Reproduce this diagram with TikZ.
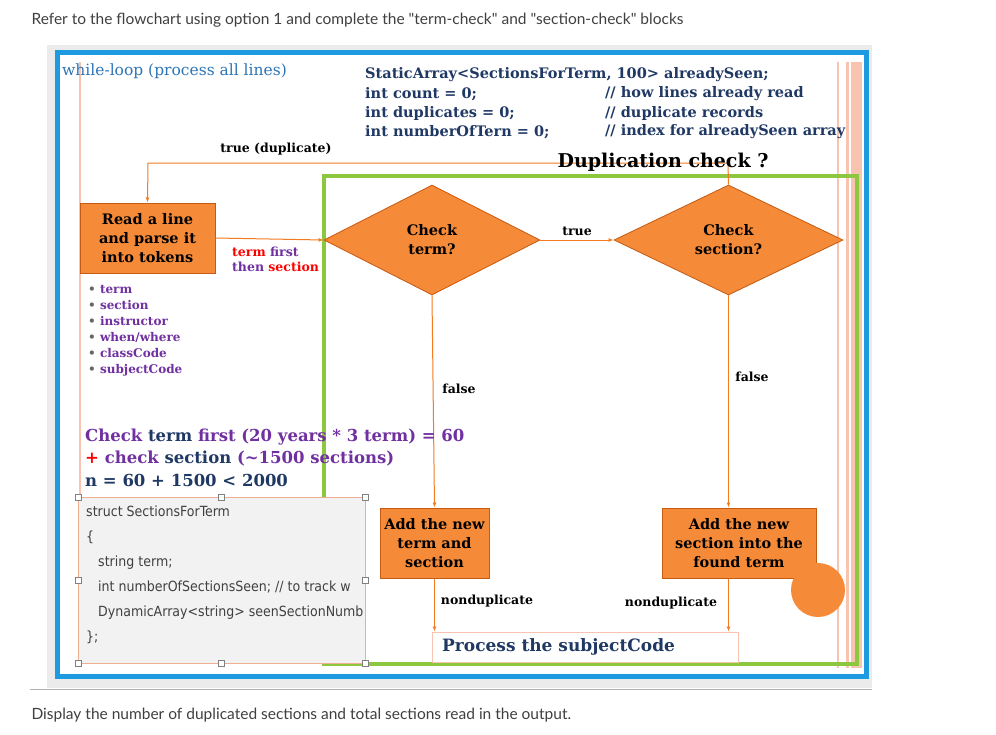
\documentclass[tikz,border=0pt]{standalone}
\usepackage{fontspec}
\setmainfont{DejaVu Serif}
\newfontfamily\uisans{Lato}
\newfontfamily\codefont{DejaVu Sans Condensed}
\usetikzlibrary{shapes.geometric,arrows.meta}
\definecolor{navy}{HTML}{1F3864}
\definecolor{org}{HTML}{F58A38}
\definecolor{orgline}{HTML}{F47B20}
\definecolor{orgdark}{HTML}{C55A11}
\definecolor{salmon}{HTML}{F8C4B0}
\definecolor{frameblue}{HTML}{1E9BE0}
\definecolor{grn}{HTML}{8DC63F}
\definecolor{purp}{HTML}{7030A0}
\definecolor{lblue}{HTML}{2E75B6}
\begin{document}
\begin{tikzpicture}[x=1pt,y=-1pt,
  proc/.style={draw=orgdark,fill=org,line width=1pt,align=center,font=\bfseries\fontsize{14.5}{19}\selectfont,inner sep=2pt},
  dec/.style={diamond,aspect=2,draw=orgdark,fill=org,line width=0.8pt,align=center,font=\bfseries\fontsize{14.5}{19}\selectfont,inner sep=0pt},
  flow/.style={orgline,line width=1pt,-{Latex[length=5pt,width=4pt]}},
  lbl/.style={font=\bfseries\fontsize{12.5}{14}\selectfont,inner sep=1pt,text=black},
  code/.style={anchor=west,font=\bfseries\fontsize{14.5}{16}\selectfont,text=navy,inner sep=0pt}]
\useasboundingbox (0,0) rectangle (996,734);
\fill[white] (0,0) rectangle (996,734);
\node[anchor=west,font=\uisans\fontsize{15.5}{17}\selectfont,text=black!75] (q) at (28,20) {Refer to the flowchart using option 1 and complete the "term-check" and "section-check" blocks};
\fill[black!8] (47,45) rectangle (872,688);
\draw[frameblue,line width=5pt,fill=white] (57,52) rectangle (866,676);
% salmon stripes
\fill[salmon] (846,62) rectangle (862,668);
\draw[white,line width=1.2pt] (850,62) -- (850,668);
\draw[salmon,line width=1.5pt] (838,62) -- (838,668);
\draw[salmon,line width=1.5pt] (80,62) -- (80,495);
% green frame
\draw[grn,line width=4pt] (324,176) rectangle (857,664);
\node[anchor=west,font=\fontsize{15.5}{18}\selectfont,text=lblue,inner sep=0pt] (wl) at (62,71) {while-loop (process all lines)};
\node[code] (d1) at (365,75) {StaticArray<SectionsForTerm, 100> alreadySeen;};
\node[code] (d2) at (365,94) {int count = 0;};
\node[code] (d3) at (365,113) {int duplicates = 0;};
\node[code] (d4) at (365,132) {int numberOfTern = 0;};
\node[code] (c2) at (605,94) {// how lines already read};
\node[code] (c3) at (605,113) {// duplicate records};
\node[code] (c4) at (605,132) {// index for alreadySeen array};
\node[lbl] (td) at (276,149) {true (duplicate)};
% nodes
\node[proc,minimum width=135pt,minimum height=70pt] (read) at (147.5,238) {Read a line\\and parse it\\into tokens};
\node[dec,minimum width=216pt,minimum height=110pt] (ct) at (432,240) {Check\\term?};
\node[dec,minimum width=229pt,minimum height=110pt] (cs) at (728.5,240) {Check\\section?};
\node[proc,minimum width=109pt,minimum height=70pt] (at) at (434.5,543) {Add the new\\term and\\section};
\node[proc,minimum width=154pt,minimum height=70pt] (as) at (739,543) {Add the new\\section into the\\found term};
\node[draw=salmon,fill=white,line width=1pt,minimum width=306pt,minimum height=30pt,inner sep=0pt] (pr) at (585,647) {};
\node[anchor=west,font=\bfseries\fontsize{17}{19}\selectfont,text=navy,inner sep=0pt] (prt) at (442,647) {Process the subjectCode};
\fill[org] (818,590) circle (27);
% connectors
\coordinate (lp1) at (728,163);
\coordinate (lp2) at (148,163);
\draw[flow] (cs.north) -- (lp1) -- (lp2) -- (read.north);
\node[font=\bfseries\fontsize{19}{21}\selectfont,inner sep=1pt] (dup) at (663,162) {Duplication check ?};
\draw[flow] (read.east) -- (ct.west);
\draw[flow] (ct.east) -- node[lbl,above=3pt] {true} (cs.west);
\draw[flow] (ct.south) -- (at.north);
\draw[flow] (cs.south) -- (cs.south |- as.north);
\draw[flow] (at.south) -- (at.south |- pr.north);
\draw[flow] (as.south -| cs.south) -- (cs.south |- pr.north);
\node[lbl] (f1) at (459,389) {false};
\node[lbl] (f2) at (752,377) {false};
\node[lbl] (n1) at (487,601) {nonduplicate};
\node[lbl] (n2) at (671,603) {nonduplicate};
\node[anchor=west,font=\bfseries\fontsize{12.5}{15}\selectfont,align=left,inner sep=0pt] (tf) at (232,259) {\textcolor{red}{term} \textcolor{purp}{first}\\\textcolor{purp}{then} \textcolor{red}{section}};
% bullet list
\node[anchor=north west,font=\bfseries\fontsize{12}{16}\selectfont,text=purp,align=left,inner sep=0pt] (bl) at (88,285) {%
\textcolor{black!60}{\textbullet}\ term\\ \textcolor{black!60}{\textbullet}\ section\\ \textcolor{black!60}{\textbullet}\ instructor\\ \textcolor{black!60}{\textbullet}\ when/where\\ \textcolor{black!60}{\textbullet}\ classCode\\ \textcolor{black!60}{\textbullet}\ subjectCode};
% complexity text
\node[anchor=west,font=\bfseries\fontsize{16.5}{18}\selectfont,inner sep=0pt] (k1) at (85,437) {\textcolor{purp}{Check} \textcolor{navy}{term} \textcolor{purp}{first (20 years * 3 term) = 60}};
\node[anchor=west,font=\bfseries\fontsize{16.5}{18}\selectfont,inner sep=0pt] (k2) at (85,459) {\textcolor{red}{+} \textcolor{purp}{check} \textcolor{navy}{section} \textcolor{purp}{(\textasciitilde1500 sections)}};
\node[anchor=west,font=\bfseries\fontsize{16.5}{18}\selectfont,text=navy,inner sep=0pt] (k3) at (85,480) {n = 60 + 1500 < 2000};
% code box
\draw[salmon!80!orgdark,fill=black!5,line width=0.8pt] (78,497) rectangle (365,663);
\begin{scope}
\clip (78,497) rectangle (363,663);
\node[anchor=north west,font=\codefont\fontsize{14}{25}\selectfont,text=black!75,align=left,inner sep=0pt] (cb) at (86,506) {struct SectionsForTerm\\\{\\\ \ \ string term;\\\ \ \ int numberOfSectionsSeen; // to track w\\\ \ \ DynamicArray<string> seenSectionNumber;\\\};};
\end{scope}
\foreach \p in {(78,497),(221,497),(365,497),(78,580),(365,580),(78,663),(221,663),(365,663)}
  \draw[black!50,fill=white] \p ++(-3,-3) rectangle ++(6,6);
% bottom
\draw[black!30,line width=1pt] (30,689) -- (872,689);
\node[anchor=west,font=\uisans\fontsize{15.5}{17}\selectfont,text=black!75] (bt) at (28,715) {Display the number of duplicated sections and total sections read in the output.};
\end{tikzpicture}
\end{document}
